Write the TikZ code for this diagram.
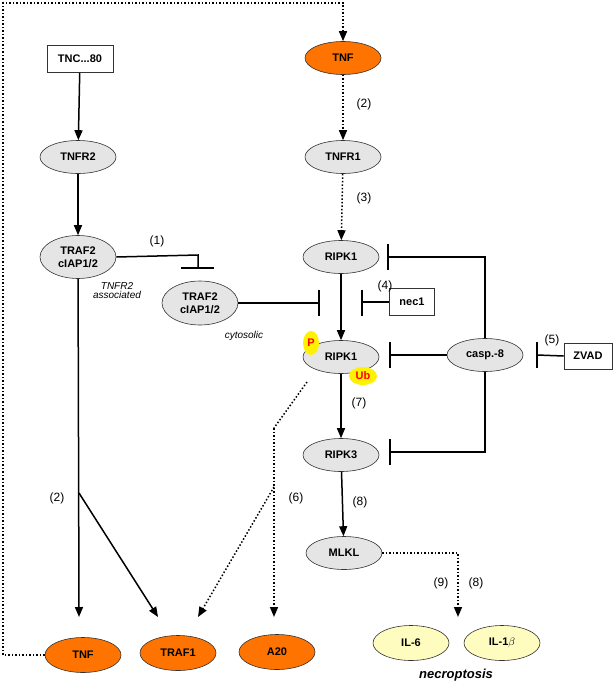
\documentclass[tikz,border=0pt]{standalone}
\usepackage{fontspec}
\setmainfont{Liberation Sans}
\usetikzlibrary{arrows.meta,shapes.geometric}
\begin{document}
\begin{tikzpicture}[x=1pt,y=-1pt,
  el/.style={ellipse,draw=black!80,line width=0.6pt,fill=#1,minimum width=76pt,minimum height=33pt,inner sep=0pt,font=\bfseries\fontsize{11}{12}\selectfont},
  el/.default={black!10},
  box/.style={rectangle,draw=black!80,line width=0.8pt,fill=white,inner sep=0pt,font=\bfseries\fontsize{11}{12}\selectfont},
  tag/.style={ellipse,fill=yellow,inner sep=1pt,text=red,font=\bfseries\fontsize{11}{12}\selectfont},
  lab/.style={font=\fontsize{12}{13}\selectfont},
  it/.style={font=\itshape\fontsize{10}{11}\selectfont,align=center},
  act/.style={line width=1.5pt,-{Triangle[width=8pt,length=10pt]}},
  dact/.style={line width=1.5pt,dotted,-{Triangle[width=8pt,length=10pt]}},
  dl/.style={line width=1.5pt,dotted},
  inh/.style={line width=1.5pt},
  bar/.style={line width=2pt}]
\useasboundingbox (0,0) rectangle (613,685);
\node[box,minimum width=66pt,minimum height=27pt] (tnc) at (80,59) {TNC...80};
\node[el] (tnfr2) at (78,157) {TNFR2};
\node[el,minimum height=43pt,align=center,font=\bfseries\fontsize{11}{13}\selectfont] (traf2a) at (78,257) {TRAF2\\cIAP1/2};
\node[el,minimum height=44pt,align=center,font=\bfseries\fontsize{11}{13}\selectfont] (traf2c) at (200,303) {TRAF2\\cIAP1/2};
\node[it] at (117,291) {TNFR2\\[-2pt]associated};
\node[it] at (244,336) {cytosolic};
\node[el=orange!90!red] (tnf) at (343,58) {TNF};
\node[el] (tnfr1) at (343,157) {TNFR1};
\node[el] (ripk1) at (341,257) {RIPK1};
\node[el] (ripk1b) at (341,357) {RIPK1};
\node[tag,minimum width=16pt,minimum height=24pt] (p) at (311,343) {P};
\node[tag,minimum width=28pt,minimum height=18pt] (ub) at (363,376) {Ub};
\node[el] (ripk3) at (341,455) {RIPK3};
\node[el] (mlkl) at (344,553) {MLKL};
\node[el] (casp) at (485,355) {casp.-8};
\node[box,minimum width=45pt,minimum height=27pt] (nec1) at (412,302) {nec1};
\node[box,minimum width=48pt,minimum height=26pt] (zvad) at (588,356) {ZVAD};
\node[el=orange!90!red,minimum height=35pt] (tnfb) at (83,655) {TNF};
\node[el=orange!90!red,minimum height=35pt] (traf1) at (178,653) {TRAF1};
\node[el=orange!90!red,minimum height=35pt] (a20) at (277,652) {A20};
\node[el=yellow!25,minimum height=35pt] (il6) at (411,643) {IL-6};
\node[el=yellow!25,minimum height=35pt] (il1) at (502,643) {IL-1$\beta$};
\node[font=\bfseries\itshape\fontsize{13}{14}\selectfont] (necro) at (456,675) {necroptosis};
% labels
\node[lab] at (364,104) {(2)};
\node[lab] at (364,198) {(3)};
\node[lab] at (157,241) {(1)};
\node[lab] at (385,286) {(4)};
\node[lab] at (552,340) {(5)};
\node[lab] at (359,403) {(7)};
\node[lab] at (360,502) {(8)};
\node[lab] at (296,498) {(6)};
\node[lab] at (57,498) {(2)};
\node[lab] at (441,583) {(9)};
\node[lab] at (476,583) {(8)};
% coordinates
\coordinate (br) at (79,493);
\coordinate (dj) at (274,428);
\coordinate (dj2) at (274,487);
\coordinate (mc) at (458,553);
% activation arrows
\draw[act] (tnc) -- (tnfr2);
\draw[act] (tnfr2) -- (traf2a);
\draw[dact] (tnf) -- (tnfr1);
\draw[dact] (tnfr1) -- (ripk1);
\draw[act] (ripk1) -- (ripk1b);
\draw[act] (ripk1b) -- (ripk3);
\draw[act] (ripk3) -- (mlkl);
\draw[act] (traf2a) -- (79,617);
\draw[act] (br) -- (158,617);
\draw[dl] (307,382) -- (dj);
\draw[dact] (dj) -- (274,617);
\draw[dact] (dj2) -- (198,617);
\draw[dact] (mlkl.east) -- (mc) -- (458,617);
\draw[dact] (tnfb.west) -- (3,655) -- (3,3) -- (343,3) -- (tnf.north);
% inhibitions
\draw[inh] (traf2a.east) -- (198,255) -- (198,268);
\draw[bar] (181,268) -- (214,268);
\draw[inh] (traf2c.east) -- (319,303);
\draw[bar] (319,290) -- (319,316);
\draw[inh] (nec1.west) -- (362,302);
\draw[bar] (362,290) -- (362,316);
\draw[inh] (casp.north) -- (485,257) -- (388,257);
\draw[bar] (388,244) -- (388,270);
\draw[inh] (casp.west) -- (390,355);
\draw[bar] (390,342) -- (390,368);
\draw[inh] (casp.south) -- (485,452) -- (390,452);
\draw[bar] (390,439) -- (390,465);
\draw[inh] (zvad.west) -- (537,355);
\draw[bar] (537,342) -- (537,368);
\end{tikzpicture}
\end{document}
